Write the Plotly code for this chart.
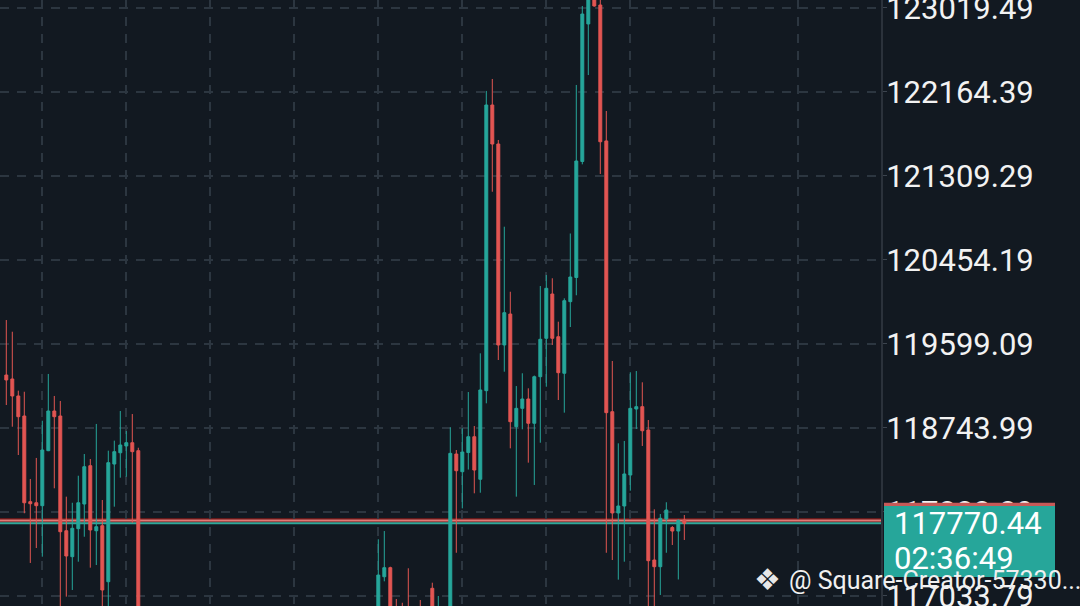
import plotly.graph_objects as go

# ---------------- data ----------------
candle_index = list(range(1, 115))

opens = [
    119280, 119240, 119067, 118863, 117991, 117980, 117950, 118510, 118914, 118863,
    117695, 117431, 117716, 117967, 118357, 117695, 117746, 117176, 118374, 118489,
    118558, 118591, 118510,
    116700, 116520, 116380, 116450, 116300, 116210, 116350, 116280, 116150, 116060,
    116190, 116120, 116010, 115950, 116080, 116230, 116170, 116090, 116240, 116310,
    116260, 116180, 116330, 116420, 116370, 116290, 116410, 116500, 116460, 116380,
    116450, 116560, 116520, 116440, 116510, 116600, 116570, 116490, 116550,
    116620, 117227, 117319, 116900, 116860, 116870, 116720, 116810, 116730, 117109,
    116770, 116880, 116800, 118476, 118296, 118491, 118652, 118219, 119121, 122029,
    121632, 119586, 119901, 118754, 118941, 119036, 118789, 119263, 119654, 120105,
    119670, 119298, 120027, 120273, 121454, 122854, 123160, 123047, 121663, 118907,
    117876, 117947, 118262, 118934, 118958, 118721, 117397, 117329, 117815, 117728,
    117692, 117804,
]
highs = [
    119840, 119721, 119121, 119110, 118222, 118436, 118815, 119291, 119067, 119016,
    118042, 117980, 118255, 118476, 118425, 118782, 118008, 118510, 118612, 118914,
    118710, 118883, 118540,
    116780, 116590, 116510, 116480, 116360, 116400, 116390, 116320, 116200, 116250,
    116230, 116160, 116070, 116130, 116290, 116270, 116210, 116300, 116370, 116340,
    116290, 116380, 116470, 116450, 116400, 116460, 116560, 116530, 116490, 116500,
    116610, 116590, 116550, 116560, 116650, 116630, 116600, 116590, 116680,
    117608, 117692, 117329, 117000, 116962, 117313, 116880, 116990, 116890, 117166,
    117031, 116910, 118748, 118517, 118738, 119107, 118761, 119501, 122172, 122294,
    121673, 120790, 120128, 119168, 119298, 119145, 119275, 120186, 120298, 120265,
    119823, 120061, 120721, 122233, 123037, 123400, 123300, 123200, 121968, 119423,
    118585, 118609, 119308, 119321, 119206, 118822, 117913, 117865, 117985, 117743,
    117811, 117855,
]
lows = [
    118975, 118754, 118466, 117873, 117367, 117519, 117431, 118505, 118127, 116850,
    117024, 117092, 117380, 117634, 117319, 117346, 116880, 116900, 117940, 118235,
    118245, 117777, 116600,
    116470, 116320, 116340, 116250, 116150, 116180, 116230, 116100, 115990, 116020,
    116070, 115960, 115880, 115910, 116040, 116120, 116030, 116060, 116200, 116210,
    116130, 116150, 116290, 116320, 116240, 116260, 116380, 116410, 116330, 116350,
    116420, 116470, 116390, 116410, 116480, 116520, 116440, 116460, 116520,
    116590, 117180, 116780, 116700, 116680, 116640, 116650, 116620, 116680, 116690,
    116700, 116740, 116760, 117471, 117923, 118318, 118076, 118082, 118992, 121146,
    119433, 119314, 118534, 118042, 118728, 118388, 118161, 118591, 119161, 119586,
    119026, 118897, 119769, 120092, 121425, 122334, 123030, 121327, 117471, 117397,
    117197, 117380, 118103, 118731, 118558, 116850, 116880, 117041, 117471, 117550,
    117199, 117601,
]
closes = [
    119230, 119067, 118856, 117980, 117970, 117950, 118517, 118914, 118856, 117685,
    117438, 117720, 117980, 118347, 117703, 117736, 117092, 118388, 118500, 118568,
    118591, 118500, 116700,
    116520, 116380, 116450, 116300, 116210, 116350, 116280, 116150, 116060, 116190,
    116120, 116010, 115950, 116080, 116230, 116170, 116090, 116240, 116310, 116260,
    116180, 116330, 116420, 116370, 116290, 116410, 116500, 116460, 116380, 116450,
    116560, 116520, 116440, 116510, 116600, 116570, 116490, 116550, 116620,
    117244, 117319, 116850, 116790, 116760, 116720, 116810, 116730, 116840, 116760,
    116880, 116800, 118483, 118306, 118497, 118652, 118313, 119128, 122029, 121632,
    119586, 119915, 118805, 118941, 119036, 118789, 119263, 119644, 120163, 119654,
    119304, 120037, 120278, 121459, 122955, 123250, 123037, 121655, 118897, 117876,
    117947, 118273, 118941, 118958, 118713, 117390, 117329, 117822, 117906, 117692,
    117799, 117770.44,
]

tick_values = [117033.79, 117888.89, 118743.99, 119599.09, 120454.19,
               121309.29, 122164.39, 123019.49]
tick_labels = ["117033.79", "117888.89", "118743.99", "119599.09", "120454.19",
               "121309.29", "122164.39", "123019.49"]

last_price = 117770.44
last_price_label = "117770.44"
countdown_label = "02:36:49"
other_price_line = 117800
watermark_logo = "❖"
watermark_text = "@ Square-Creator-57330..."

# ---------------- style ----------------
BG = "#121921"
GRID = "#2c3640"
UP = "#26a69a"
DOWN = "#e25552"
TXT = "#f2f2f2"
FONT = "Roboto"

fig = go.Figure()
fig.add_trace(go.Candlestick(
    x=candle_index, open=opens, high=highs, low=lows, close=closes,
    increasing=dict(line=dict(color=UP, width=1), fillcolor=UP),
    decreasing=dict(line=dict(color=DOWN, width=1), fillcolor=DOWN),
    whiskerwidth=0, hoverinfo="skip", showlegend=False,
))

PLOT_W = 881
fig.update_layout(
    width=1080, height=606, autosize=False,
    margin=dict(l=0, r=1080 - PLOT_W, t=0, b=0, autoexpand=False),
    paper_bgcolor=BG, plot_bgcolor=BG,
    showlegend=False,
    xaxis=dict(
        range=[-0.05, 146.78], showticklabels=False, ticks="",
        showgrid=True, tick0=7, dtick=14, gridcolor=GRID, gridwidth=1.5,
        griddash="9px,8px", zeroline=False, showline=False, automargin=False,
        rangeslider=dict(visible=False), fixedrange=True,
    ),
    yaxis=dict(
        side="right", range=[116928.9, 123097.9], automargin=False,
        tickmode="array", tickvals=tick_values, ticktext=tick_labels,
        tickfont=dict(family=FONT, size=31, color=TXT),
        ticklabeloverflow="allow", ticklabelstandoff=-7,
        showgrid=True, gridcolor=GRID, gridwidth=1.5, griddash="9px,8px",
        zeroline=False, showline=True, linecolor="#2b323b", linewidth=2,
        ticks="outside", ticklen=4, tickwidth=1, tickcolor="#3c444e",
        fixedrange=True,
    ),
)

# price lines
fig.add_shape(type="line", xref="paper", x0=0, x1=1, yref="y",
              y0=other_price_line, y1=other_price_line,
              line=dict(color="rgba(120,25,25,0.8)", width=5), layer="between")
fig.add_shape(type="line", xref="paper", x0=0, x1=1, yref="y",
              y0=other_price_line, y1=other_price_line,
              line=dict(color="#e07a76", width=2), layer="between")
fig.add_shape(type="line", xref="paper", x0=0, x1=1, yref="y",
              y0=last_price, y1=last_price,
              line=dict(color="#2fa89b", width=2), layer="between")

# price label box
H = 606.0
def py(p):
    return 1 - p / H
def px(p):
    return p / PLOT_W

fig.add_shape(type="rect", xref="paper", yref="paper",
              x0=px(884), x1=px(1055), y0=py(577), y1=py(502.7),
              fillcolor="#c75a58", line=dict(width=0), layer="above")
fig.add_shape(type="rect", xref="paper", yref="paper",
              x0=px(884), x1=px(1055), y0=py(577), y1=py(506),
              fillcolor="#26a69a", line=dict(width=0), layer="above")
fig.add_annotation(xref="paper", yref="paper", x=px(892), y=py(523),
                   xanchor="left", yanchor="middle", showarrow=False,
                   text=last_price_label,
                   font=dict(family=FONT, size=31, color="#ffffff"))
fig.add_annotation(xref="paper", yref="paper", x=px(892), y=py(558),
                   xanchor="left", yanchor="middle", showarrow=False,
                   text=countdown_label,
                   font=dict(family=FONT, size=31, color="#ffffff"))

# watermark
fig.add_annotation(xref="paper", yref="paper", x=px(752), y=py(579),
                   xanchor="left", yanchor="middle", showarrow=False,
                   text=watermark_logo,
                   font=dict(family="DejaVu Sans", size=30, color="#e8e8e8"))
fig.add_annotation(xref="paper", yref="paper", x=px(787), y=py(580),
                   xanchor="left", yanchor="middle", showarrow=False,
                   text=watermark_text,
                   font=dict(family=FONT, size=25, color="#f0f0f0"))

fig.write_html("out.html", config={"displayModeBar": False},
               post_script="document.body.style.margin='0';")
